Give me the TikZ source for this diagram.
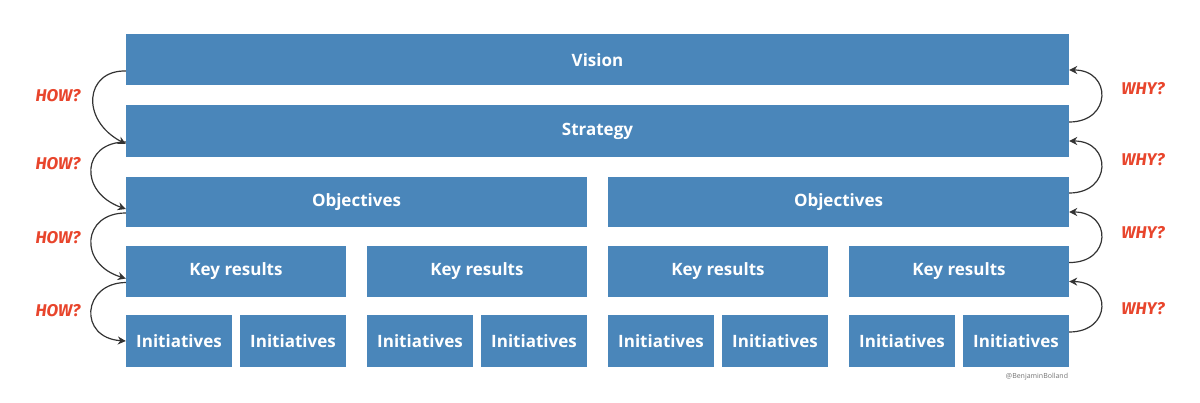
\documentclass[tikz,border=0pt]{standalone}
\usepackage{fontspec}
\setmainfont{Open Sans}
\newfontfamily\handfont{Fira Sans}
\usetikzlibrary{arrows.meta}
\definecolor{boxblue}{HTML}{4A86BA}
\definecolor{askred}{HTML}{E8452C}
\begin{document}
\begin{tikzpicture}[x=1pt,y=-1pt,
  blk/.style={fill=boxblue,draw=none,text=white,font=\bfseries\fontsize{17}{20}\selectfont,inner sep=0pt,minimum height=51pt},
  ask/.style={text=askred,font=\handfont\bfseries\itshape\fontsize{17}{19}\selectfont},
  turn/.style={draw=black!80,line width=1.2pt,-{Stealth[length=8pt,width=8pt]}}]
\useasboundingbox (0,0) rectangle (1200,403);
% levels
\node[blk,minimum width=943pt] (vis) at (597.5,60) {Vision};
\node[blk,minimum width=943pt,minimum height=52pt] (str) at (597.5,131) {Strategy};
\node[blk,minimum width=461pt,minimum height=50pt] (obj1) at (356.5,202) {Objectives};
\node[blk,minimum width=461pt,minimum height=50pt] (obj2) at (838.5,202) {Objectives};
\foreach \i/\cx in {1/236,2/477,3/718,4/959}
  \node[blk,minimum width=220pt] (kr\i) at (\cx,271.5) {Key results};
\foreach \i/\cx in {1/179,2/293,3/420,4/534,5/661,6/775,7/902,8/1016}
  \node[blk,minimum width=106pt,minimum height=52pt] (ini\i) at (\cx,341) {Initiatives};
\node[text=black!55,font=\fontsize{7}{8}\selectfont] (tag) at (1037,377) {@BenjaminBolland};
% how? arrows on the left
\draw[turn] ([yshift=-11pt]vis.west) .. controls (85,70) and (80,120) .. ([yshift=-13pt]str.west);
\draw[turn] ([yshift=-11pt]str.west) .. controls (82,142) and (78,192) .. ([yshift=-7pt]obj1.west);
\draw[turn] ([yshift=-11pt]obj1.west) .. controls (82,213) and (78,264) .. ([yshift=-7pt]kr1.west);
\draw[turn] ([yshift=-11pt]kr1.west) .. controls (82,283) and (78,338) .. (ini1.west);
\foreach \n/\y in {1/96,2/164,3/238,4/311}
  \node[ask] (how\n) at (58,\y) {HOW?};
% why? arrows on the right
\draw[turn] ([yshift=9pt]str.east) .. controls (1112,122) and (1112,70) .. ([yshift=-10pt]vis.east);
\draw[turn] ([yshift=9pt]obj2.east) .. controls (1112,193) and (1112,141) .. ([yshift=-10pt]str.east);
\draw[turn] ([yshift=9pt]kr4.east) .. controls (1112,263) and (1112,212) .. ([yshift=-10pt]obj2.east);
\draw[turn] ([yshift=9pt]ini8.east) .. controls (1112,332) and (1112,282) .. ([yshift=-10pt]kr4.east);
\foreach \n/\y in {1/89,2/160,3/233,4/309}
  \node[ask] (why\n) at (1143,\y) {WHY?};
\end{tikzpicture}
\end{document}
